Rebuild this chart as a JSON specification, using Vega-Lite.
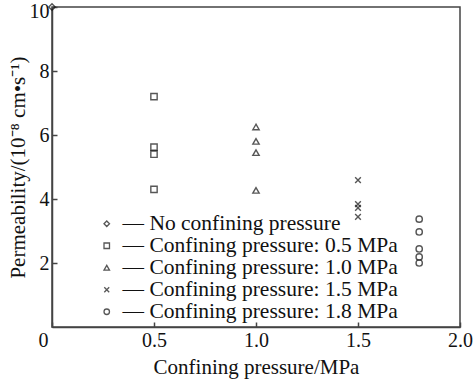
{
  "$schema": "https://vega.github.io/schema/vega-lite/v6.json",
  "autosize": "none",
  "width": 408,
  "height": 320,
  "padding": {"left": 52, "top": 7, "right": 14, "bottom": 54},
  "background": "white",
  "config": {
    "font": "Liberation Serif",
    "view": {"stroke": "#444", "strokeWidth": 1.5},
    "axis": {"grid": false, "domainColor": "#444", "domainWidth": 1.5, "tickColor": "#444", "tickWidth": 1.5,
             "labelFont": "Liberation Serif", "labelFontSize": 20, "labelColor": "#111",
             "titleFont": "Liberation Serif", "titleFontSize": 21, "titleFontWeight": "normal", "titleColor": "#111"}
  },
  "data": {"values": [
    {"p": 0, "k": 10, "series": "No confining pressure"},
    {"p": 0.5, "k": 7.2, "series": "Confining pressure: 0.5 MPa"},
    {"p": 0.5, "k": 5.62, "series": "Confining pressure: 0.5 MPa"},
    {"p": 0.5, "k": 5.4, "series": "Confining pressure: 0.5 MPa"},
    {"p": 0.5, "k": 4.3, "series": "Confining pressure: 0.5 MPa"},
    {"p": 1.0, "k": 6.25, "series": "Confining pressure: 1.0 MPa"},
    {"p": 1.0, "k": 5.8, "series": "Confining pressure: 1.0 MPa"},
    {"p": 1.0, "k": 5.45, "series": "Confining pressure: 1.0 MPa"},
    {"p": 1.0, "k": 4.27, "series": "Confining pressure: 1.0 MPa"},
    {"p": 1.5, "k": 4.59, "series": "Confining pressure: 1.5 MPa"},
    {"p": 1.5, "k": 3.84, "series": "Confining pressure: 1.5 MPa"},
    {"p": 1.5, "k": 3.72, "series": "Confining pressure: 1.5 MPa"},
    {"p": 1.5, "k": 3.44, "series": "Confining pressure: 1.5 MPa"},
    {"p": 1.8, "k": 3.37, "series": "Confining pressure: 1.8 MPa"},
    {"p": 1.8, "k": 2.97, "series": "Confining pressure: 1.8 MPa"},
    {"p": 1.8, "k": 2.44, "series": "Confining pressure: 1.8 MPa"},
    {"p": 1.8, "k": 2.19, "series": "Confining pressure: 1.8 MPa"},
    {"p": 1.8, "k": 2.0, "series": "Confining pressure: 1.8 MPa"}
  ]},
  "mark": {"type": "point", "filled": false, "strokeWidth": 1.4, "size": 40, "clip": false},
  "encoding": {
    "x": {"field": "p", "type": "quantitative",
          "scale": {"domain": [0, 2], "nice": false, "zero": false},
          "axis": {"values": [0, 0.5, 1, 1.5, 2], "labelExpr": "datum.value == 0 ? '0' : format(datum.value, '.1f')",
                   "labelFont": "Liberation Serif", "labelFontSize": 20,
                   "tickSize": -5, "labelPadding": 8, "labelFlush": false,
                   "labelAlign": {"condition": {"test": "datum.value == 0", "value": "right"}, "value": "center"},
                   "labelOffset": {"condition": {"test": "datum.value == 0", "value": -4}, "value": 0},
                   "title": "Confining pressure/MPa", "titlePadding": 6}},
    "y": {"field": "k", "type": "quantitative",
          "scale": {"domain": [0, 10], "nice": false},
          "axis": {"values": [2, 4, 6, 8, 10], "tickSize": -5, "labelPadding": 8, "labelFlush": false,
                   "labelFont": "Liberation Serif", "labelFontSize": 20,
                   "labelOffset": {"condition": {"test": "datum.value == 10", "value": 4}, "value": 0},
                   "title": "Permeability/(10⁻⁸ cm•s⁻¹)", "titlePadding": 1}},
    "shape": {"field": "series", "type": "nominal",
              "scale": {"domain": ["No confining pressure", "Confining pressure: 0.5 MPa", "Confining pressure: 1.0 MPa", "Confining pressure: 1.5 MPa", "Confining pressure: 1.8 MPa"],
                        "range": ["diamond", "square", "triangle-up", "M-0.9,-0.9L0.9,0.9M0.9,-0.9L-0.9,0.9", "circle"]},
              "legend": {"orient": "none", "legendX": 44, "legendY": 206, "title": null,
                         "labelExpr": "'—  ' + datum.label", "labelFont": "Liberation Serif", "labelFontSize": 21.5,
                         "labelColor": "#111", "labelOffset": 5, "symbolSize": 30, "symbolStrokeWidth": 1.3,
                         "symbolStrokeColor": "#111", "rowPadding": -2, "labelLimit": 400}},
    "color": {"value": "#111"}
  }
}
